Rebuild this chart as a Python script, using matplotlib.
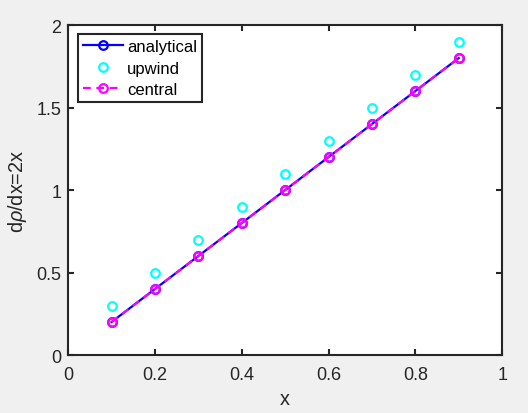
import matplotlib
matplotlib.use('Agg')
import matplotlib.pyplot as plt

x = [0.1, 0.2, 0.3, 0.4, 0.5, 0.6, 0.7, 0.8, 0.9]
analytical = [0.2, 0.4, 0.6, 0.8, 1.0, 1.2, 1.4, 1.6, 1.8]
upwind = [0.3, 0.5, 0.7, 0.9, 1.1, 1.3, 1.5, 1.7, 1.9]
central = [0.2, 0.4, 0.6, 0.8, 1.0, 1.2, 1.4, 1.6, 1.8]

plt.rcParams['font.family'] = ['Liberation Sans', 'DejaVu Sans']
plt.rcParams['mathtext.fontset'] = 'custom'
plt.rcParams['mathtext.it'] = 'Liberation Sans:italic'
plt.rcParams['mathtext.rm'] = 'Liberation Sans'

fig = plt.figure(figsize=(5.28, 4.14), dpi=100, facecolor='#f0f0f0')
ax = fig.add_axes([0.129, 0.140, 0.822, 0.797])

ax.plot(x, analytical, '-o', color='blue', lw=1.6, ms=6.2, mfc='none', mew=1.6, label='analytical')
ax.plot(x, upwind, 'o', color='cyan', ms=6.2, mfc='none', mew=1.6, label='upwind')
ax.plot(x, central, '--o', color='magenta', lw=1.6, ms=6.2, mfc='none', mew=1.6,
        dashes=(3.5, 2.5), label='central')

ax.set_xlim(0, 1)
ax.set_ylim(0, 2)
ax.set_xticks([0, 0.2, 0.4, 0.6, 0.8, 1])
ax.set_xticklabels(['0', '0.2', '0.4', '0.6', '0.8', '1'])
ax.set_yticks([0, 0.5, 1, 1.5, 2])
ax.set_yticklabels(['0', '0.5', '1', '1.5', '2'])

dark = '#262626'
for s in ax.spines.values():
    s.set_color(dark)
    s.set_linewidth(1.5)
ax.tick_params(direction='in', length=4, width=1.5, colors=dark, labelsize=13,
               top=True, right=True)
ax.tick_params(axis='x', pad=8)
ax.tick_params(axis='y', pad=5)
ax.set_xlabel('x', fontsize=14.3, color=dark, labelpad=4)
ax.set_ylabel(r'd$\rho$/dx=2x', fontsize=14.3, color=dark, labelpad=5)

leg = ax.legend(loc='upper left', bbox_to_anchor=(0.023, 0.973), fontsize=12,
                frameon=True, fancybox=False, framealpha=1, edgecolor=dark,
                borderpad=0.3, labelspacing=0.4, handlelength=2.4,
                handletextpad=0.25, borderaxespad=0)
leg.get_frame().set_linewidth(1.5)

fig.savefig('out.png', dpi=100, facecolor=fig.get_facecolor())
